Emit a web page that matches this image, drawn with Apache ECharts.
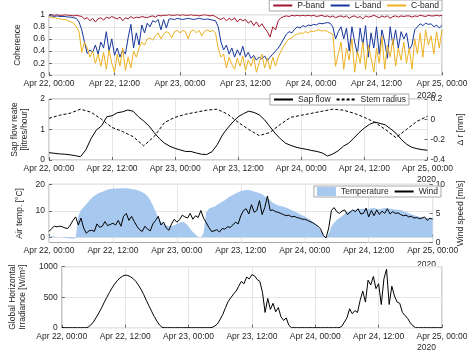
<!DOCTYPE html>
<html>
<head>
<meta charset="utf-8">
<script src="https://cdn.jsdelivr.net/npm/echarts@6/dist/echarts.min.js"></script>
<style>html,body{margin:0;padding:0;background:#fff}#c{width:474px;height:352px}</style>
</head>
<body>
<div id="c"></div>
<script>
// ---- data ----
const xTickLabels = ["Apr 22, 00:00","Apr 22, 12:00","Apr 23, 00:00","Apr 23, 12:00","Apr 24, 00:00","Apr 24, 12:00","Apr 25, 00:00"];
const yearLabel = "2020";

// coherence, every 0.5 h from Apr 22 00:00
const coherenceP = [
0.99,1.0,0.99,1.0,0.99,0.99,1.0,0.99,0.99,0.98,0.99,0.98,
0.97,0.93,0.95,0.9,0.94,0.88,0.93,0.95,0.91,0.96,0.94,0.97,
0.95,0.93,0.96,0.9,0.95,0.93,0.97,0.94,0.96,0.95,0.97,0.96,
0.95,0.97,0.98,0.96,0.99,0.98,0.99,0.99,1.0,0.99,0.99,1.0,
0.99,1.0,0.99,0.99,1.0,0.99,0.99,0.98,0.99,1.0,0.99,0.98,
0.99,0.97,0.94,0.92,0.95,0.9,0.94,0.91,0.95,0.88,0.93,0.9,
0.92,0.86,0.9,0.82,0.88,0.8,0.85,0.78,0.72,0.63,0.8,0.75,
0.9,0.95,0.97,0.98,0.97,0.99,0.98,0.99,0.98,0.99,0.98,0.99,
0.98,0.99,0.97,0.98,0.99,0.97,0.98,0.96,0.98,0.95,0.97,0.98,
0.96,0.98,0.94,0.97,0.98,0.95,0.97,0.93,0.98,0.96,0.97,0.99,
0.97,0.95,0.98,0.96,0.98,0.94,0.97,0.98,0.96,0.98,0.97,0.98,
0.98,0.96,0.98,0.97,0.99,0.98,0.97,0.99,0.98,0.98,0.99,0.98,
0.99];
const coherenceL = [
0.98,0.98,0.97,0.98,0.97,0.97,0.97,0.96,0.96,0.95,0.94,0.88,
0.75,0.55,0.36,0.42,0.38,0.5,0.35,0.55,0.45,0.72,0.4,0.6,
0.33,0.45,0.3,0.42,0.35,0.62,0.84,0.45,0.7,0.5,0.83,0.7,
0.86,0.8,0.9,0.88,0.92,0.75,0.92,0.78,0.93,0.93,0.92,0.94,
0.93,0.92,0.93,0.94,0.93,0.92,0.93,0.94,0.93,0.92,0.93,0.92,
0.91,0.9,0.8,0.55,0.42,0.5,0.35,0.45,0.3,0.42,0.33,0.48,
0.3,0.38,0.28,0.33,0.25,0.3,0.27,0.32,0.24,0.3,0.35,0.4,
0.45,0.52,0.6,0.68,0.72,0.7,0.76,0.8,0.78,0.82,0.8,0.83,
0.82,0.84,0.83,0.86,0.85,0.86,0.87,0.86,0.8,0.6,0.72,0.8,
0.6,0.78,0.4,0.8,0.55,0.35,0.78,0.5,0.82,0.3,0.7,0.45,
0.8,0.35,0.75,0.55,0.28,0.8,0.5,0.75,0.45,0.72,0.6,0.7,
0.42,0.5,0.75,0.8,0.85,0.82,0.86,0.84,0.85,0.8,0.83,0.78,
0.82];
const coherenceC = [
0.97,0.95,0.95,0.94,0.93,0.92,0.92,0.9,0.88,0.86,0.8,0.72,
0.38,0.55,0.45,0.3,0.4,0.2,0.35,0.15,0.38,0.1,0.42,0.2,
0.05,0.35,0.15,0.45,0.08,0.3,0.12,0.4,0.3,0.45,0.55,0.5,
0.6,0.62,0.58,0.65,0.7,0.6,0.68,0.72,0.7,0.62,0.72,0.74,
0.7,0.74,0.72,0.6,0.73,0.75,0.7,0.74,0.65,0.73,0.75,0.72,
0.74,0.7,0.45,0.3,0.35,0.12,0.3,0.18,0.1,0.28,0.15,0.32,
0.08,0.25,0.15,0.3,0.05,0.2,0.35,0.12,0.28,0.1,0.3,0.15,
0.3,0.4,0.48,0.55,0.6,0.62,0.66,0.68,0.7,0.69,0.72,0.7,
0.73,0.72,0.74,0.75,0.73,0.74,0.72,0.7,0.68,0.15,0.35,0.55,
0.1,0.45,0.25,0.6,0.05,0.4,0.2,0.55,0.1,0.5,0.3,0.05,
0.45,0.2,0.65,0.1,0.5,0.3,0.6,0.15,0.45,0.25,0.55,0.2,
0.45,0.1,0.6,0.35,0.7,0.3,0.75,0.5,0.65,0.35,0.72,0.45,
0.75];

// sap flow, every 1 h
const sapFlow = [
0.24,0.22,0.2,0.19,0.17,0.14,0.11,0.33,0.7,0.98,1.12,1.42,
1.45,1.55,1.58,1.64,1.6,1.42,1.28,1.12,0.9,0.7,0.55,0.45,
0.38,0.33,0.28,0.28,0.23,0.19,0.18,0.27,0.5,0.82,1.05,1.25,
1.42,1.52,1.6,1.56,1.48,1.32,1.1,0.88,0.7,0.55,0.48,0.42,
0.38,0.35,0.31,0.28,0.23,0.13,0.2,0.3,0.45,0.55,0.72,0.9,
1.05,1.17,1.24,1.2,1.15,1.02,0.88,0.68,0.52,0.42,0.37,0.34,
0.32];
// stem radius change, every 2 h
const stemRadius = [
0.01,0.04,0.06,0.1,0.07,0.0,-0.08,-0.12,-0.17,-0.26,-0.17,-0.03,
0.02,0.05,0.07,0.09,0.1,0.05,-0.03,-0.1,-0.16,-0.13,-0.05,0.02,
0.04,0.06,0.08,0.1,0.09,0.06,0.02,-0.03,-0.1,-0.18,-0.1,-0.02,
0.03];

// air temperature, every 0.5 h
const temperature = [
0.5,0.4,0.3,0.1,0.0,-0.2,-0.3,-0.4,-0.5,-0.5,-0.4,8.0,
10.2,11.4,12.5,13.7,14.8,15.6,16.3,16.8,17.2,17.6,18.0,18.2,
18.3,18.4,18.4,18.5,18.5,18.5,18.4,18.2,18.0,17.8,17.5,17.0,
16.4,15.5,14.0,12.0,9.7,7.5,5.9,5.0,4.5,4.2,4.2,4.5,
5.0,5.5,5.8,5.5,4.5,3.2,2.0,1.0,0.2,0.0,1.5,9.5,
10.8,11.2,11.5,12.2,12.8,13.4,14.0,14.8,15.5,16.0,16.5,17.0,
17.5,17.7,17.8,17.8,17.6,17.3,17.0,16.6,16.2,15.5,14.8,14.0,
13.0,12.5,12.0,11.8,11.5,11.2,10.8,10.3,9.8,9.3,8.8,8.3,
7.8,7.2,6.6,5.8,5.0,3.8,2.5,1.0,-0.5,1.5,4.0,5.5,
6.5,7.3,8.0,8.8,9.6,9.9,10.2,10.4,10.6,10.7,10.8,10.8,
10.7,10.9,11.0,10.8,10.6,10.8,11.0,10.9,10.8,10.6,10.5,10.4,
10.3,9.9,9.5,9.1,8.7,8.3,8.0,7.7,7.5,7.3,7.2,7.1,
7.1];
// wind speed, every 0.5 h
const windSpeed = [
1.9,2.4,2.8,2.7,2.8,2.7,2.5,2.4,3.0,3.8,4.4,3.0,
4.2,2.5,1.6,2.0,2.1,1.9,3.2,2.6,2.8,3.6,2.9,3.1,
3.3,3.0,3.8,2.8,4.5,5.0,3.8,4.5,3.6,2.8,2.2,1.9,
2.8,2.3,2.0,3.2,3.8,4.5,3.0,3.5,2.5,2.1,3.2,4.0,
3.5,3.9,4.7,4.4,4.2,5.0,4.0,4.6,4.3,5.5,4.2,3.4,
2.6,1.9,2.0,2.2,1.8,2.4,2.3,2.7,2.6,3.0,3.5,3.2,
4.6,5.5,5.8,4.9,6.5,5.2,5.5,7.2,4.8,6.0,8.0,5.5,
5.6,5.3,5.2,5.0,4.8,4.6,4.7,4.4,4.5,4.3,4.2,4.0,
4.0,3.8,3.6,3.4,3.1,2.8,2.3,1.2,0.8,2.5,5.5,6.0,
5.3,5.0,5.4,5.6,4.8,5.2,5.6,5.3,5.8,4.9,5.0,5.9,
4.4,5.5,4.6,5.6,4.8,5.4,5.0,5.8,4.9,5.3,5.0,5.1,
4.8,4.6,4.7,4.4,4.5,4.2,4.3,4.1,4.2,4.4,3.8,4.2,
4.0];

// global horizontal irradiance, every 0.5 h
const irradiance = [
0,0,0,0,0,0,0,0,0,0,10,45,
95,165,240,320,410,495,575,650,715,770,815,845,
862,855,836,805,760,700,630,545,450,360,270,185,
110,45,5,0,0,0,0,0,0,0,0,0,
0,0,0,0,0,0,0,0,0,5,30,65,
140,220,330,430,490,550,600,680,760,720,830,800,
870,850,790,760,580,250,480,300,400,260,330,180,
120,160,40,0,0,0,0,0,0,0,0,0,
0,0,0,0,0,0,0,0,0,0,20,90,
160,310,230,280,250,450,600,420,780,700,840,640,
720,380,800,960,380,680,520,420,400,250,200,150,
80,30,0,0,0,0,0,0,0,0,0,0,
0];

// ---- chart ----
function timed(arr, stepHours) { return arr.map((v, i) => [i * stepHours, v]); }

const FONT = "'Liberation Sans', Arial, sans-serif";
const TXT = '#262626';
const FS = 8.5;
const grids = [
  { left: 49, right: 32, top: 14.7, height: 60.6 },
  { left: 49, right: 32, top: 99, height: 61 },
  { left: 49, right: 32, top: 184.3, height: 58.2 },
  { left: 49, right: 32, top: 266.7, height: 61 }
].map(g => Object.assign({ show: true, borderColor: '#a8a8a8', borderWidth: 1, backgroundColor: 'transparent' }, g));

const xAxes = grids.map((g, i) => ({
  type: 'value', gridIndex: i, min: 0, max: 72, interval: 12,
  axisLine: { show: false },
  axisTick: { show: true, inside: true, length: 3, lineStyle: { color: '#666' } },
  splitLine: { show: true, lineStyle: { color: '#e6e6e6', width: 1 } },
  axisLabel: { margin: 4, fontSize: FS, fontFamily: FONT, color: TXT, showMinLabel: true, showMaxLabel: true,
    formatter: v => xTickLabels[Math.round(v / 12)] }
}));

function yAx(o) {
  const base = {
    type: 'value', nameLocation: 'middle',
    nameTextStyle: { fontSize: FS, fontFamily: FONT, color: TXT, lineHeight: 10 },
    axisLine: { show: false },
    axisTick: { show: true, inside: true, length: 3, lineStyle: { color: '#666' } },
    splitLine: { show: true, lineStyle: { color: '#e6e6e6', width: 1 } },
    axisLabel: { margin: 4, fontSize: FS, fontFamily: FONT, color: TXT, showMinLabel: true, showMaxLabel: true,
      formatter: v => String(Math.round(v * 100) / 100) }
  };
  const r = Object.assign({}, base, o);
  if (o.axisLabel) r.axisLabel = Object.assign({}, base.axisLabel, o.axisLabel);
  if (o.axisTick) r.axisTick = Object.assign({}, base.axisTick, o.axisTick);
  return r;
}

const yAxes = [
  yAx({ gridIndex: 0, min: 0, max: 1, interval: 0.2, name: 'Coherence', nameGap: 20 }),
  yAx({ gridIndex: 1, min: 0, max: 2, interval: 1, name: 'Sap flow reate\n[litres/hour]', nameGap: 11 }),
  yAx({ gridIndex: 1, position: 'right', min: -0.4, max: 0.2, interval: 0.2, name: 'Δ r [mm]', nameGap: 21,
        splitLine: { show: false }, axisLabel: { margin: 3 } }),
  yAx({ gridIndex: 2, min: -2, max: 20, name: 'Air temp. [°C]', nameGap: 16,
        axisLabel: { customValues: [0, 10, 20] }, axisTick: { customValues: [0, 10, 20] } }),
  yAx({ gridIndex: 2, position: 'right', min: 0, max: 10, interval: 5, name: 'Wind speed [m/s]', nameGap: 18,
        splitLine: { show: false }, axisLabel: { margin: 3 } }),
  yAx({ gridIndex: 3, min: 0, max: 1000, interval: 500, name: 'Global Horizontal\nIrradiance [W/m²]', nameGap: 27 })
];

function lineSeries(name, data, xi, yi, color, extra) {
  return Object.assign({
    name, type: 'line', xAxisIndex: xi, yAxisIndex: yi, data,
    symbol: 'none', showSymbol: false, animation: false, silent: true,
    lineStyle: { color, width: 1 }, itemStyle: { color }
  }, extra || {});
}

const series = [
  lineSeries('P-band', timed(coherenceP, 0.5), 0, 0, '#a2142f'),
  lineSeries('L-band', timed(coherenceL, 0.5), 0, 0, '#16369c'),
  lineSeries('C-band', timed(coherenceC, 0.5), 0, 0, '#edb120'),
  lineSeries('Sap flow', timed(sapFlow, 1), 1, 1, '#000'),
  lineSeries('Stem radius', timed(stemRadius, 2), 1, 2, '#000', { lineStyle: { color: '#000', width: 1, type: [3, 2] } }),
  lineSeries('Temperature', timed(temperature, 0.5), 2, 3, '#a8c9ef', {
    lineStyle: { width: 0, color: '#a8c9ef' }, areaStyle: { color: '#a8c9ef', opacity: 1 } }),
  lineSeries('Wind', timed(windSpeed, 0.5), 2, 4, '#000'),
  lineSeries('Irradiance', timed(irradiance, 0.5), 3, 5, '#000')
];

const legendBase = {
  orient: 'horizontal', itemWidth: 19, itemHeight: 9, itemGap: 5, padding: [1, 3],
  borderColor: '#a8a8a8', borderWidth: 1, backgroundColor: '#fff',
  itemStyle: { opacity: 0 },
  textStyle: { fontSize: FS, fontFamily: FONT, color: TXT }, selectedMode: false
};
const legends = [
  Object.assign({}, legendBase, { right: 32, top: 0, data: ['P-band', 'L-band', 'C-band'] }),
  Object.assign({}, legendBase, { left: 270, top: 94, data: ['Sap flow', 'Stem radius'] }),
  Object.assign({}, legendBase, { right: 33, top: 186,
    data: [{ name: 'Temperature', icon: 'rect', itemStyle: { color: '#a8c9ef', opacity: 1 } }, 'Wind'] })
];

const yearTops = [91, 175, 260, 343];
const graphic = yearTops.map(t => ({
  type: 'text', left: 417, top: t,
  style: { text: yearLabel, fontSize: FS, fontFamily: FONT, fill: TXT }
}));

const chart = echarts.init(document.getElementById('c'), null, { renderer: 'canvas' });
chart.setOption({
  animation: false,
  backgroundColor: '#fff',
  grid: grids, xAxis: xAxes, yAxis: yAxes, series, legend: legends, graphic
});
</script>
</body>
</html>
